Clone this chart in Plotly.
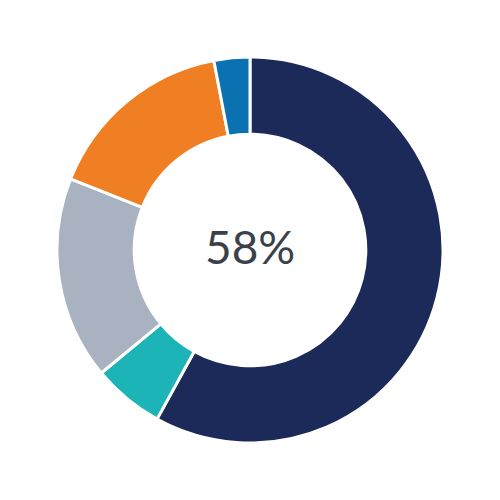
import plotly.graph_objects as go

# slices, clockwise from 12 o'clock
labels = ['Navy', 'Teal', 'Gray', 'Orange', 'Blue']
values = [58, 6, 17, 16, 3]
colors = ['#1c2a59', '#1db4b7', '#a8b2c0', '#f07e22', '#0a72b0']
center_text = '58%'

fig = go.Figure()
fig.add_trace(
  go.Pie(
    labels=labels,
    values=values,
    hole=0.6,
    sort=False,
    direction='clockwise',
    rotation=0,
    marker=dict(colors=colors, line=dict(color='white', width=3)),
    textinfo='none',
    hoverinfo='label+percent',
    showlegend=False,
  )
)

fig.add_annotation(
  text=center_text,
  x=0.5, y=0.5, xref='paper', yref='paper',
  yshift=4,
  showarrow=False,
  font=dict(family='Lato', size=46, color='#3b4149'),
)

# page body adds 8px, so shift the margins to keep the ring centred
fig.update_layout(
  width=500,
  height=500,
  margin=dict(l=49, r=65, t=49, b=65),
  paper_bgcolor='white',
  plot_bgcolor='white',
)

fig.write_html('out.html')
